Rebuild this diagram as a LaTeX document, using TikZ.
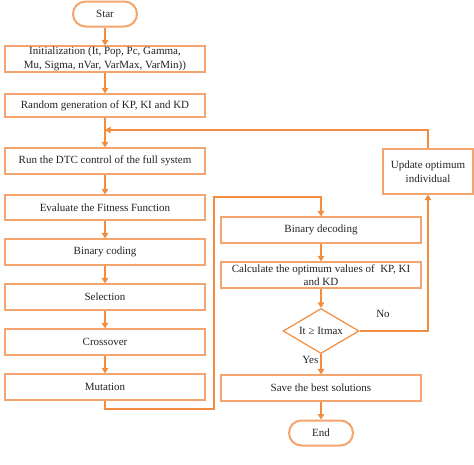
\documentclass[tikz,border=0pt]{standalone}
\usepackage{fontspec}
\setmainfont{Liberation Serif}
\usetikzlibrary{arrows.meta,shapes.geometric}
\definecolor{ln}{RGB}{242,140,62}
\definecolor{bx}{RGB}{244,165,110}
\definecolor{tx}{RGB}{35,35,35}
\begin{document}
\begin{tikzpicture}[x=1pt,y=-1pt,
  every node/.style={font=\fontsize{11}{13.5}\selectfont, text=tx, align=center, inner sep=1pt},
  box/.style={draw=bx, line width=1.1pt, rectangle, minimum width=200pt, minimum height=26pt},
  term/.style={draw=bx, line width=2pt, rectangle, rounded corners=12.5pt, minimum width=64pt, minimum height=25pt},
  dec/.style={draw=ln, line width=1.2pt, diamond, minimum width=76pt, minimum height=45pt, aspect=1.7, inner sep=0pt},
  conn/.style={draw=ln, line width=1.3pt},
  arr/.style={conn, -{Triangle[length=5.5pt,width=6.5pt]}}]
\useasboundingbox (0,0) rectangle (474,464);
\node[term] (star) at (105,14) {Star};
\node[box] (init) at (105,59) {Initialization (It, Pop, Pc, Gamma,\\Mu, Sigma, nVar, VarMax, VarMin))};
\node[box, minimum height=23pt] (rand) at (105,105.5) {Random generation of KP, KI and KD};
\node[box] (run) at (105,161) {Run the DTC control of the full system};
\node[box, minimum height=25pt] (eval) at (105,207.5) {Evaluate the Fitness Function};
\node[box] (bcod) at (105,252) {Binary coding};
\node[box] (sel) at (105,297) {Selection};
\node[box] (cross) at (105,342) {Crossover};
\node[box] (mut) at (105,387) {Mutation};
\node[box] (bdec) at (321,230) {Binary decoding};
\node[box] (calc) at (321,275) {Calculate the optimum values of\ \ KP, KI\\and KD};
\node[dec] (dia) at (321,331) {It ≥ Itmax};
\node[box] (save) at (321,388) {Save the best solutions};
\node[term] (end) at (321,433) {End};
\node[box, minimum width=90pt, minimum height=45pt] (upd) at (428,171.5) {Update optimum\\individual};
\coordinate (j) at (105,130);
\coordinate (m1) at (214,409);
\coordinate (m2) at (214,197);
\draw[arr] (star) -- (init);
\draw[arr] (init) -- (rand);
\draw[arr] (rand) -- (run);
\draw[arr] (run) -- (eval);
\draw[arr] (eval) -- (bcod);
\draw[arr] (bcod) -- (sel);
\draw[arr] (sel) -- (cross);
\draw[arr] (cross) -- (mut);
\draw[arr] (mut.south) |- (m1) -- (m2) -| (bdec.north);
\draw[arr] (bdec) -- (calc);
\draw[arr] (calc) -- (dia);
\draw[arr] (dia.east) -| (upd.south);
\draw[arr] (upd.north) |- (j);
\draw[arr] (dia.south) -- node[left, pos=0.3, xshift=-1pt] {Yes} (save);
\draw[arr] (save) -- (end);
\node (no) at (383,314) {No};
\end{tikzpicture}
\end{document}
